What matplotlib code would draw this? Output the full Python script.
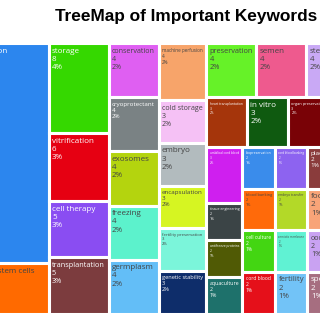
import matplotlib
matplotlib.use("Agg")
import matplotlib.pyplot as plt
from matplotlib.patches import Rectangle
from matplotlib.colors import to_rgb

# keyword counts read from the tiles (an empty label = tile lying outside the crop)
left_hidden_labels = [""]
left_hidden_values = [13]
col0_labels = ["cryopreservation", "mesenchymal stem cells"]
col0_values = [35, 8]

col1_labels = ["storage", "vitrification", "cell therapy", "transplantation"]
col1_values = [8, 6, 5, 5]
col2_labels = ["conservation", "cryoprotectant", "exosomes", "freezing", "germplasm"]
col2_values = [4, 4, 4, 4, 4]
col3_labels = ["machine perfusion", "cold storage", "embryo", "encapsulation",
               "fertility preservation", "genetic stability"]
col3_values = [4, 3, 3, 3, 3, 3]

row_a_labels = ["preservation", "semen", "sterilization"]
row_a_values = [4, 4, 4]
row_b_labels = ["heart transplantation", "in vitro", "organ preservation", ""]
row_b_values = [3, 3, 3, 2]

low1_labels = ["umbilical cord blood", "tissue engineering", "antifreeze proteins", "aquaculture"]
low1_values = [3, 2, 2, 2]
low2_labels = ["biopreservation", "blood banking", "cell culture", "cord blood"]
low2_values = [2, 2, 2, 2]
low3_labels = ["cord blood banking", "embryo transfer", "amniotic membrane", "fertility"]
low3_values = [2, 2, 2, 2]
low4_labels = ["placenta", "food", "oocytes", "sperm"]
low4_values = [2, 2, 2, 2]
low5_labels = ["", ""]
low5_values = [2, 2]

# tile colours
left_hidden_colors = ["#5A78C8"]
col0_colors = ["#2C86EE", "#FF6A00"]
col1_colors = ["#35D800", "#E60012", "#8A4DF2", "#7C3C3E"]
col2_colors = ["#DF5FF2", "#7A8284", "#B4D40E", "#5CF2CC", "#63BEF7"]
col3_colors = ["#F7A46A", "#F5C1F5", "#B2BBBE", "#D6F522", "#7BF5DA", "#0E2D6A"]
row_a_colors = ["#66F228", "#EE5A8E", "#C9A9F5"]
row_b_colors = ["#A5350B", "#0F5A10", "#790206", "#D9A441"]
low1_colors = ["#CF1FEF", "#3B4446", "#505A05", "#1E716B"]
low2_colors = ["#3A8CEB", "#FF6A0A", "#43D612", "#E5101A"]
low3_colors = ["#8D63F0", "#B3D928", "#60F2D3", "#72C3F7"]
low4_colors = ["#8A3C3C", "#F8A478", "#C9A2F2", "#A66E80"]
low5_colors = ["#999999", "#777777"]

all_values = (left_hidden_values + col0_values + col1_values + col2_values + col3_values +
              row_a_values + row_b_values + low1_values + low2_values + low3_values +
              low4_values + low5_values)
total = sum(all_values)

# ---- treemap layout: height 1, area of a tile = its count ----
tiles = []


def add_row(x, y, h, labels, values, colors):
    for lab, v, c in zip(labels, values, colors):
        w = v / h
        tiles.append((x, y, w, h, lab, v, c))
        x += w


def add_stack(x, y, w, labels, values, colors):
    for lab, v, c in zip(labels, values, colors):
        h = v / w
        tiles.append((x, y, w, h, lab, v, c))
        y += h


x = 0.0
for labs, vals, cols in [(left_hidden_labels, left_hidden_values, left_hidden_colors),
                         (col0_labels, col0_values, col0_colors),
                         (col1_labels, col1_values, col1_colors),
                         (col2_labels, col2_values, col2_colors),
                         (col3_labels, col3_values, col3_colors)]:
    add_stack(x, 0, sum(vals), labs, vals, cols)
    x += sum(vals)

wr = total - x
ha = sum(row_a_values) / wr
hb = sum(row_b_values) / wr
add_row(x, 0, ha, row_a_labels, row_a_values, row_a_colors)
add_row(x, ha, hb, row_b_labels, row_b_values, row_b_colors)
hl = 1 - ha - hb
for labs, vals, cols in [(low1_labels, low1_values, low1_colors),
                         (low2_labels, low2_values, low2_colors),
                         (low3_labels, low3_values, low3_colors),
                         (low4_labels, low4_values, low4_colors),
                         (low5_labels, low5_values, low5_colors)]:
    add_stack(x, ha + hb, sum(vals) / hl, labs, vals, cols)
    x += sum(vals) / hl


def text_color(c):
    r, g, b = to_rgb(c)
    return "#444444" if (0.4 * r + 0.45 * g + 0.15 * b) * 255 > 140 else "white"


# visible window of the (wider) treemap
x_view = (36.6, 164.6)
y_view = (1.024, -0.161)

fig = plt.figure(figsize=(3.2, 3.2), dpi=100)
ax = fig.add_axes([0, 0, 1, 1])
ax.set_xlim(*x_view)
ax.set_ylim(*y_view)
ax.axis("off")

px_x = 320 / (x_view[1] - x_view[0])
px_y = 320 / (y_view[0] - y_view[1])

renderer = fig.canvas.get_renderer()
for (tx, ty, tw, th, lab, v, c) in tiles:
    ax.add_patch(Rectangle((tx, ty), tw, th, facecolor=c, edgecolor="white", linewidth=2.2))
    if not lab:
        continue
    pct = round(100 * v / total)
    t = ax.annotate(f"{lab}\n{v}\n{pct}%", xy=(tx, ty), xytext=(3.5, -4.5),
                    textcoords="offset pixels", ha="left", va="top",
                    fontsize=5.8, family=["Open Sans", "DejaVu Sans"],
                    color=text_color(c), linespacing=1.25, annotation_clip=False)
    bb = t.get_window_extent(renderer)
    avail_w = tw * px_x - 7
    avail_h = th * px_y - 7
    scale = min(1.0, avail_w / bb.width, avail_h / bb.height)
    if scale < 1.0:
        t.set_fontsize(5.8 * scale)

fig.text(55 / 320, 1 - 20.5 / 320, "TreeMap of Important Keywords", fontsize=12.4,
         fontweight="bold", family=["Liberation Sans", "DejaVu Sans"],
         ha="left", va="baseline")

fig.savefig("out.png", dpi=100)
